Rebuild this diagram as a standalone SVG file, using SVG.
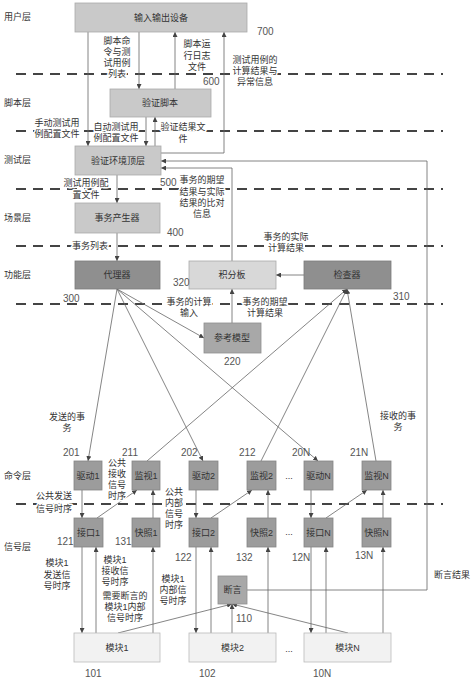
<svg xmlns="http://www.w3.org/2000/svg" width="474" height="680" viewBox="0 0 474 680">
<defs>
<marker id="ah" viewBox="0 0 10 10" refX="10" refY="5" markerWidth="5" markerHeight="5" orient="auto" markerUnits="userSpaceOnUse">
<path d="M0,0 L10,5 L0,10 z" fill="#444"/>
</marker>
<style>
text{font-family:"Liberation Sans","Noto Sans CJK SC",sans-serif;fill:#333;font-size:9px}
.lay{font-size:9px}
.c{text-anchor:middle}
.lb{text-anchor:middle;stroke:#fff;stroke-width:3px;paint-order:stroke;stroke-linejoin:round}
.num{font-size:10px;fill:#555}
.dash{stroke:#444;stroke-width:2;stroke-dasharray:10 7;fill:none}
.ar{stroke:#666;stroke-width:0.8;fill:none;marker-end:url(#ah)}
.lt{fill:#c9c9c9;stroke:#aaa;stroke-width:0.8}
.sc{fill:#d8d8d8;stroke:#aaa;stroke-width:0.8}
.dk{fill:#8f8f8f;stroke:#7a7a7a;stroke-width:0.8}
.md{fill:#9c9c9c;stroke:#858585;stroke-width:0.8}
.mid{fill:#a8a8a8;stroke:#8e8e8e;stroke-width:0.8}
.mod{fill:#f2f2f2;stroke:#bbb;stroke-width:0.8}
</style>
</defs>
<rect width="474" height="680" fill="#fff"/>

<g id="layers">
<text class="lay" x="4" y="20">用户层</text>
<text class="lay" x="4" y="106">脚本层</text>
<text class="lay" x="4" y="163">测试层</text>
<text class="lay" x="4" y="221">场景层</text>
<text class="lay" x="4" y="278">功能层</text>
<text class="lay" x="4" y="479">命令层</text>
<text class="lay" x="4" y="550">信号层</text>
<line class="dash" x1="16" y1="74" x2="443" y2="74"/>
<line class="dash" x1="16" y1="131" x2="443" y2="131"/>
<line class="dash" x1="16" y1="189" x2="443" y2="189"/>
<line class="dash" x1="16" y1="246" x2="443" y2="246"/>
<line class="dash" x1="16" y1="304" x2="443" y2="304"/>
<line class="dash" x1="16" y1="504" x2="443" y2="504"/>
</g>

<g id="connectors">
<path class="ar" d="M88,32 V146"/>
<path class="ar" d="M139,32 V89"/>
<path class="ar" d="M175,89 V32"/>
<path class="ar" d="M161,153 H224 V32"/>
<path class="ar" d="M146,117 V146"/>
<path class="ar" d="M155,146 V117"/>
<path class="ar" d="M117,175 V203"/>
<path class="ar" d="M117,233 V261"/>
<path class="ar" d="M304,275 H276"/>
<path class="ar" d="M232,261 V168 H161"/>
<path class="ar" d="M232,323 V289"/>
<path class="ar" d="M117,289 L204,338"/>
<path class="ar" d="M117,289 L88,461"/>
<path class="ar" d="M117,289 L203,461"/>
<path class="ar" d="M117,289 L318,461"/>
<path class="ar" d="M147,461 L347,289"/>
<path class="ar" d="M261,461 L347,289"/>
<path class="ar" d="M376,461 L347,289"/>
<path class="ar" d="M82,490 V518"/>
<path class="ar" d="M97,518 L137,490"/>
<path class="ar" d="M153,518 V490"/>
<path class="ar" d="M196,490 V518"/>
<path class="ar" d="M211,518 L252,490"/>
<path class="ar" d="M268,518 V490"/>
<path class="ar" d="M311,490 V518"/>
<path class="ar" d="M326,518 L367,490"/>
<path class="ar" d="M383,518 V490"/>
<path class="ar" d="M82,547 V633"/>
<path class="ar" d="M96,633 V547"/>
<path class="ar" d="M153,633 V547"/>
<path class="ar" d="M196,547 V633"/>
<path class="ar" d="M211,633 V547"/>
<path class="ar" d="M268,633 V547"/>
<path class="ar" d="M311,547 V633"/>
<path class="ar" d="M326,633 V547"/>
<path class="ar" d="M383,633 V547"/>
<path class="ar" d="M118,633 L232,604"/>
<path class="ar" d="M232,633 V604"/>
<path class="ar" d="M348,633 L232,604"/>
<path class="ar" d="M247,590 H427 V161 H161"/>
</g>

<g id="labels">
<text class="lb" x="57" y="126">手动测试用<tspan x="57" dy="11">例配置文件</tspan></text>
<text class="lb" x="117" y="44">脚本命<tspan x="117" dy="11">令与测</tspan><tspan x="117" dy="11">试用例</tspan><tspan x="117" dy="11">列表</tspan></text>
<text class="lb" x="197" y="47">脚本运<tspan x="197" dy="12">行日志</tspan><tspan x="197" dy="11">文件</tspan></text>
<text class="lb" x="255" y="63">测试用例的<tspan x="255" dy="11">计算结果与</tspan><tspan x="255" dy="11">异常信息</tspan></text>
<text class="lb" x="116" y="130">自动测试用<tspan x="116" dy="11">例配置文件</tspan></text>
<text class="lb" x="183" y="130">验证结果文<tspan x="183" dy="12">件</tspan></text>
<text class="lb" x="86" y="186">测试用例配<tspan x="86" dy="12">置文件</tspan></text>
<text class="lb" x="90" y="249">事务列表</text>
<text class="lb" x="202" y="183">事务的期望<tspan x="202" dy="12">结果与实际</tspan><tspan x="202" dy="11">结果的比对</tspan><tspan x="202" dy="11">信息</tspan></text>
<text class="lb" x="286" y="240">事务的实际<tspan x="286" dy="11">计算结果</tspan></text>
<text class="lb" x="189" y="305">事务的计算<tspan x="189" dy="11">输入</tspan></text>
<text class="lb" x="265" y="305">事务的期望<tspan x="265" dy="11">计算结果</tspan></text>
<text class="lb" x="67" y="420">发送的事<tspan x="67" dy="11">务</tspan></text>
<text class="lb" x="398" y="419">接收的事<tspan x="398" dy="11">务</tspan></text>
<text class="lb" x="117" y="466">公共<tspan x="117" dy="11">接收</tspan><tspan x="117" dy="11">信号</tspan><tspan x="117" dy="11">时序</tspan></text>
<text class="lb" x="54" y="499">公共发送<tspan x="54" dy="13">信号时序</tspan></text>
<text class="lb" x="174" y="495">公共<tspan x="174" dy="11">内部</tspan><tspan x="174" dy="11">信号</tspan><tspan x="174" dy="11">时序</tspan></text>
<text class="lb" x="57" y="566">模块1<tspan x="57" dy="12">发送信</tspan><tspan x="57" dy="11">号时序</tspan></text>
<text class="lb" x="115" y="563">模块1<tspan x="115" dy="11">接收信</tspan><tspan x="115" dy="11">号时序</tspan></text>
<text class="lb" x="125" y="599">需要断言的<tspan x="125" dy="11">模块1内部</tspan><tspan x="125" dy="11">信号时序</tspan></text>
<text class="lb" x="173" y="582">模块1<tspan x="173" dy="11">内部信</tspan><tspan x="173" dy="11">号时序</tspan></text>
<text class="lb" x="452" y="578">断言结果</text>
<text class="c" x="289" y="479">...</text>
<text class="c" x="289" y="535">...</text>
<text class="c" x="289" y="652">...</text>
</g>

<g id="io"><rect class="lt" x="75" y="3" width="172" height="29"/><text class="c" x="161" y="21">输入输出设备</text><text class="num" x="257" y="35">700</text></g>
<g id="script"><rect class="lt" x="110" y="89" width="101" height="28"/><text class="c" x="160" y="106">验证脚本</text><text class="num" x="203" y="85">600</text></g>
<g id="env"><rect class="lt" x="75" y="146" width="86" height="29"/><text class="c" x="118" y="164">验证环境顶层</text><text class="num" x="160" y="186">500</text></g>
<g id="gen"><rect class="lt" x="75" y="203" width="85" height="30"/><text class="c" x="117" y="221">事务产生器</text><text class="num" x="167" y="236">400</text></g>
<g id="agent"><rect class="dk" x="75" y="261" width="85" height="28"/><text class="c" x="117" y="278">代理器</text><text class="num" x="63" y="302">300</text></g>
<g id="score"><rect class="sc" x="189" y="261" width="87" height="28"/><text class="c" x="232" y="278">积分板</text><text class="num" x="173" y="286">320</text></g>
<g id="checker"><rect class="dk" x="304" y="261" width="87" height="28"/><text class="c" x="347" y="278">检查器</text><text class="num" x="393" y="300">310</text></g>
<g id="ref"><rect class="mid" x="204" y="323" width="57" height="30"/><text class="c" x="232" y="341">参考模型</text><text class="num" x="224" y="365">220</text></g>

<g id="drv1"><rect class="md" x="74" y="461" width="28" height="29"/><text class="c" x="88" y="479">驱动1</text><text class="num" x="63" y="456">201</text></g>
<g id="mon1"><rect class="md" x="132" y="461" width="28" height="29"/><text class="c" x="146" y="479">监视1</text><text class="num" x="122" y="456">211</text></g>
<g id="drv2"><rect class="md" x="189" y="461" width="29" height="29"/><text class="c" x="203.5" y="479">驱动2</text><text class="num" x="181" y="456">202</text></g>
<g id="mon2"><rect class="md" x="247" y="461" width="29" height="29"/><text class="c" x="261.5" y="479">监视2</text><text class="num" x="239" y="456">212</text></g>
<g id="drvN"><rect class="md" x="304" y="461" width="29" height="29"/><text class="c" x="318.5" y="479">驱动N</text><text class="num" x="292" y="456">20N</text></g>
<g id="monN"><rect class="md" x="362" y="461" width="29" height="29"/><text class="c" x="376.5" y="479">监视N</text><text class="num" x="350" y="456">21N</text></g>

<g id="if1"><rect class="md" x="74" y="518" width="29" height="29"/><text class="c" x="88.5" y="536">接口1</text><text class="num" x="57" y="545">121</text></g>
<g id="snap1"><rect class="md" x="132" y="518" width="28" height="29"/><text class="c" x="146" y="536">快照1</text><text class="num" x="115" y="545">131</text></g>
<g id="if2"><rect class="md" x="189" y="518" width="29" height="29"/><text class="c" x="203.5" y="536">接口2</text><text class="num" x="175" y="561">122</text></g>
<g id="snap2"><rect class="md" x="247" y="518" width="29" height="29"/><text class="c" x="261.5" y="536">快照2</text><text class="num" x="236" y="561">132</text></g>
<g id="ifN"><rect class="md" x="304" y="518" width="29" height="29"/><text class="c" x="318.5" y="536">接口N</text><text class="num" x="292" y="561">12N</text></g>
<g id="snapN"><rect class="md" x="362" y="518" width="29" height="29"/><text class="c" x="376.5" y="536">快照N</text><text class="num" x="355" y="559">13N</text></g>

<g id="assert"><rect class="mid" x="218" y="576" width="29" height="28"/><text class="c" x="232.5" y="593">断言</text><text class="num" x="236" y="622">110</text></g>

<g id="mod1"><rect class="mod" x="74" y="633" width="86" height="29"/><text class="c" x="117" y="651">模块1</text><text class="num" x="85" y="677">101</text></g>
<g id="mod2"><rect class="mod" x="189" y="633" width="87" height="29"/><text class="c" x="232.5" y="651">模块2</text><text class="num" x="199" y="677">102</text></g>
<g id="modN"><rect class="mod" x="304" y="633" width="87" height="29"/><text class="c" x="347.5" y="651">模块N</text><text class="num" x="313" y="677">10N</text></g>
</svg>
